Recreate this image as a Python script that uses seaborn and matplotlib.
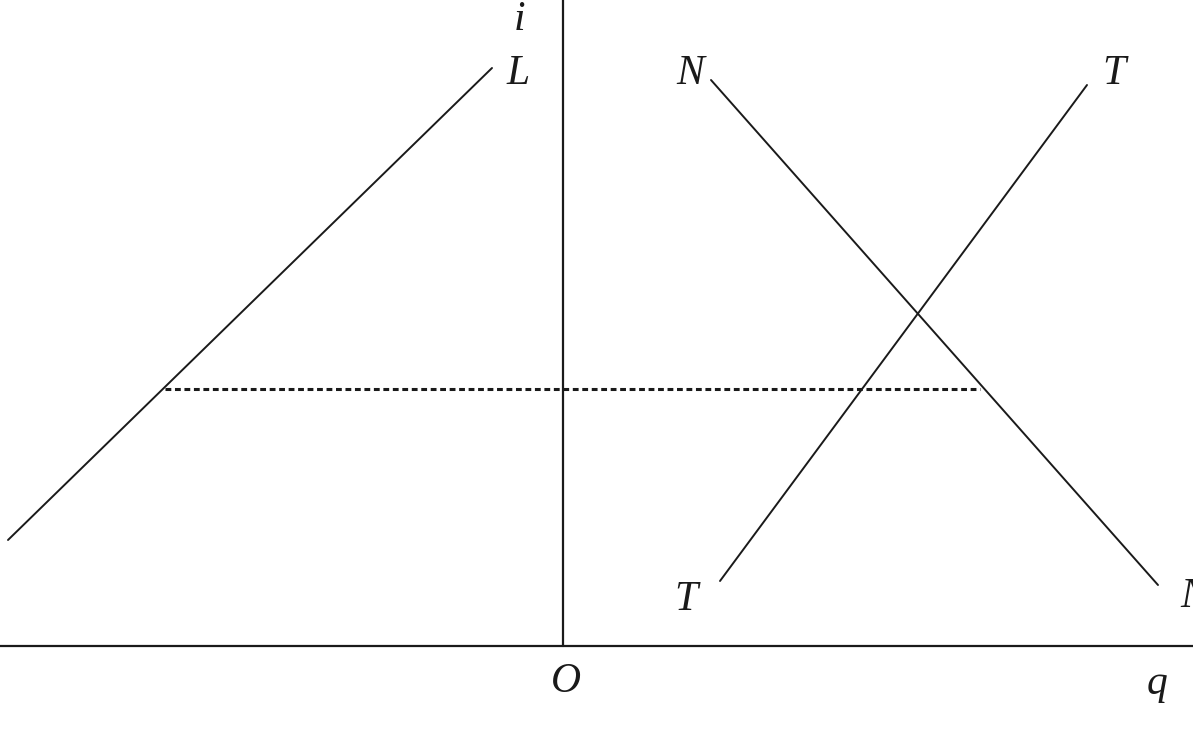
import numpy as np
import pandas as pd
import matplotlib
matplotlib.use("Agg")
import matplotlib.pyplot as plt
import seaborn as sns

# curve end points (origin O at the axes crossing)
L_x = [-555, -71]
L_y = [106, 578]
N_x = [148, 595]
N_y = [566, 61]
T_x = [157, 524]
T_y = [65, 561]
dot_x = [-398, 417]
dot_y = [257, 257]

sns.set_theme(style="white")
plt.rcParams['font.family'] = ['Liberation Serif', 'DejaVu Serif']

fig = plt.figure(figsize=(11.93, 7.35), dpi=100)
ax = fig.add_axes([0, 0, 1, 1])
ax.set_xlim(-563, 630)
ax.set_ylim(-89, 646)
ax.axis('off')

lines = pd.DataFrame({
    'x': L_x + N_x + T_x,
    'y': L_y + N_y + T_y,
    'curve': ['L'] * 2 + ['N'] * 2 + ['T'] * 2,
})
sns.lineplot(data=lines, x='x', y='y', units='curve', estimator=None,
             color='#1a1a1a', lw=1.4, ax=ax, sort=False)
sns.lineplot(x=dot_x, y=dot_y, color='#1a1a1a', lw=2.2, ax=ax,
             linestyle=(0, (1.9, 1.2)))

# axes
ax.plot([-563, 630], [0, 0], color='#1a1a1a', lw=1.6)
ax.plot([0, 0], [0, 646], color='#1a1a1a', lw=1.6)

fs = 30
kw = dict(fontsize=fs, style='italic', color='#1a1a1a', ha='center', va='center')
ax.text(-44, 626, 'i', **kw)
ax.text(-45, 572, 'L', **kw)
ax.text(127, 572, 'N', **kw)
ax.text(551, 572, 'T', **kw)
ax.text(123, 46, 'T', **kw)
ax.text(631, 49, 'N', fontsize=fs, style='italic', color='#1a1a1a', ha='center', va='center')
ax.text(3, -36, 'O', **kw)
ax.text(594, -38, 'q', **kw)

fig.savefig('out.png', dpi=100)
